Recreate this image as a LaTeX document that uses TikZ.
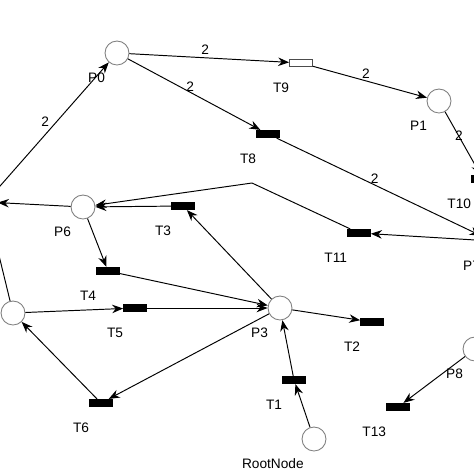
\documentclass[tikz,border=0pt]{standalone}
\usepackage{fontspec}
\setmainfont{Liberation Sans}
\usetikzlibrary{arrows.meta}

\tikzset{
  place/.style={circle, draw=gray, fill=white, line width=0.5pt, minimum size=0.48cm, inner sep=0pt},
  trans/.style={rectangle, draw=black, fill=black, minimum width=0.46cm, minimum height=0.15cm, inner sep=0pt},
  lab/.style={font=\fontsize{7.8}{9}\selectfont, inner sep=0pt, text width=1.2cm, align=right, xshift=-0.84cm, yshift=-0.5cm},
  wt/.style={font=\fontsize{7.8}{9}\selectfont, inner sep=0pt, xshift=-0.08cm, yshift=0.16cm},
  arc/.style={-{Stealth[length=0.22cm, width=0.17cm]}, line width=0.55pt}
}

\begin{document}
\begin{tikzpicture}[x=0.02cm, y=-0.02cm]
    \useasboundingbox (0,0) rectangle (474,474);
    % places
    \node[place, label={[lab]center:P0}] (P0) at (117,53) {};
    \node[place, label={[lab]center:P1}] (P1) at (439,101) {};
    \node[place, label={[lab]center:P6}] (P6) at (83,207) {};
    \node[place, label={[lab]center:P3}] (P3) at (280,308) {};
    \node[place, label={[lab]center:P7}] (P7) at (492,241) {};
    \node[place, label={[lab]center:P8}] (P8) at (475,349) {};
    \node[place] (P5) at (13,313) {};
    \node[place, label={[lab]center:RootNode}] (root) at (314,439) {};
    % transitions
    \node[trans] (T0) at (-14,202) {};
    \node[trans, fill=white, draw=black!70, label={[lab]center:T9}] (T9) at (301,63) {};
    \node[trans, label={[lab]center:T8}] (T8) at (268,134) {};
    \node[trans, label={[lab]center:T10}] (T10) at (483,179) {};
    \node[trans, label={[lab]center:T11}] (T11) at (359,233) {};
    \node[trans, label={[lab]center:T3}] (T3) at (183,206) {};
    \node[trans, label={[lab]center:T4}] (T4) at (108,271) {};
    \node[trans, label={[lab]center:T5}] (T5) at (135,308) {};
    \node[trans, label={[lab]center:T2}] (T2) at (372,322) {};
    \node[trans, label={[lab]center:T6}] (T6) at (101,403) {};
    \node[trans, label={[lab]center:T1}] (T1) at (294,380) {};
    \node[trans, label={[lab]center:T13}] (T13) at (398,407) {};
    \coordinate (bend) at (252,183);
    % arcs with weight 2
    \draw[arc] (T0) -- node[wt] {2} (P0);
    \draw[arc] (P0) -- node[wt] {2} (T9);
    \draw[arc] (T9) -- node[wt] {2} (P1);
    \draw[arc] (P1) -- node[wt] {2} (T10);
    \draw[arc] (P0) -- node[wt] {2} (T8);
    \draw[arc] (T8) -- node[wt] {2} (P7);
    % other arcs
    \draw[arc] (P7) -- (T11);
    \draw[arc] (T11) -- (bend) -- (P6);
    \draw[arc] (T3) -- (P6);
    \draw[arc] (P3) -- (T3);
    \draw[arc] (P6) -- (T4);
    \draw[arc] (T4) -- (P3);
    \draw[arc] (P5) -- (T5);
    \draw[arc] (T5) -- (P3);
    \draw[arc] (P3) -- (T6);
    \draw[arc] (T6) -- (P5);
    \draw[arc] (P3) -- (T2);
    \draw[arc] (root) -- (T1);
    \draw[arc] (T1) -- (P3);
    \draw[arc] (P8) -- (T13);
    \draw[arc] (P6) -- (T0);
    \draw[arc] (P5) -- (T0);
\end{tikzpicture}
\end{document}
